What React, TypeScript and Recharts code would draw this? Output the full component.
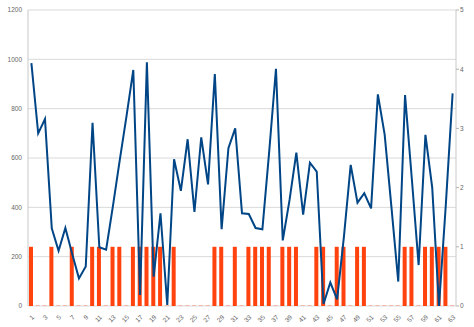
import { ComposedChart, Bar, Line, XAxis, YAxis, CartesianGrid } from "recharts";

const categories = [
  "1", "2", "3", "4", "5", "6", "7", "8", "9", "10",
  "11", "12", "13", "14", "15", "16", "17", "18", "19", "20",
  "21", "22", "23", "24", "25", "26", "27", "28", "29", "30",
  "31", "32", "33", "34", "35", "36", "37", "38", "39", "40",
  "41", "42", "43", "44", "45", "46", "47", "48", "49", "50",
  "51", "52", "53", "54", "55", "56", "57", "58", "59", "60",
  "61", "62", "63",
];

// line series, left axis
const amounts = [
  985, 700, 758, 315, 224, 316, 212, 112, 160, 743,
  238, 228, 405, 590, 770, 957, 45, 988, 119, 376,
  4, 595, 467, 676, 381, 684, 493, 940, 311, 640,
  720, 376, 373, 316, 311, 625, 962, 266, 430, 622,
  370, 581, 545, 8, 95, 27, 280, 572, 419, 457,
  396, 858, 695, 400, 99, 855, 515, 166, 694, 480,
  0, 410, 862,
];

// bar series, right axis (0 / 1)
const flags = [
  1, 0, 0, 1, 0, 0, 1, 0, 0, 1,
  1, 0, 1, 1, 0, 1, 1, 1, 1, 1,
  0, 1, 0, 0, 0, 0, 0, 1, 1, 0,
  1, 0, 1, 1, 1, 1, 0, 1, 1, 1,
  0, 0, 1, 1, 0, 1, 1, 0, 1, 1,
  0, 0, 0, 0, 0, 1, 1, 0, 1, 1,
  1, 1, 0,
];

const leftTicks = [0, 200, 400, 600, 800, 1000, 1200];
const rightTicks = [0, 1, 2, 3, 4, 5];

const data = categories.map((c, i) => ({ n: c, amount: amounts[i], flag: flags[i] }));

const LINE_COLOR = "#004586";
const BAR_COLOR = "#ff420e";
const AXIS_TEXT = { fontSize: 6.5, fill: "#666", fontFamily: "Liberation Sans, Arial, sans-serif" };

// zero-valued bars still leave a faint stub on the baseline
const FlagBar = (props: any) => {
  const { x, y, width, height } = props;
  if (!height || height < 0.5) {
    return <rect x={x} y={y - 1} width={width} height={1} fill={BAR_COLOR} fillOpacity={0.3} />;
  }
  return <rect x={x} y={y} width={width} height={height} fill={BAR_COLOR} />;
};

const XTick = (props: any) => {
  const { x, y, payload } = props;
  const tx = x + 1.5;
  const ty = y + 2;
  return (
    <text
      x={tx}
      y={ty}
      transform={`rotate(-45 ${tx} ${ty})`}
      textAnchor="end"
      dy="0.35em"
      {...AXIS_TEXT}
    >
      {payload.value}
    </text>
  );
};

export default function App() {
  return (
    <div style={{ position: "absolute", left: 0, top: 0, width: 474, height: 327, background: "#fff" }}>
      <ComposedChart width={474} height={327} data={data} margin={{ top: 10, right: 0, bottom: 0, left: 0 }}>
        <CartesianGrid yAxisId="left" vertical={false} stroke="#d9d9d9" />
        <XAxis
          dataKey="n"
          interval={1}
          height={21}
          tickLine={false}
          axisLine={false}
          tick={<XTick />}
        />
        <YAxis
          yAxisId="left"
          domain={[0, 1200]}
          ticks={leftTicks}
          width={28}
          tickLine={false}
          tickMargin={0}
          axisLine={{ stroke: "#c8c8c8" }}
          tick={AXIS_TEXT}
        />
        <YAxis
          yAxisId="right"
          orientation="right"
          domain={[0, 5]}
          ticks={rightTicks}
          width={18}
          tickSize={3}
          tickMargin={1}
          tickLine={{ stroke: "#b3b3b3" }}
          axisLine={{ stroke: "#c8c8c8" }}
          tick={{ ...AXIS_TEXT, textAnchor: "start" }}
        />
        <Bar yAxisId="right" dataKey="flag" barSize={4} shape={<FlagBar />} isAnimationActive={false} />
        <Line
          yAxisId="left"
          dataKey="amount"
          stroke={LINE_COLOR}
          strokeWidth={2}
          dot={false}
          type="linear"
          isAnimationActive={false}
        />
      </ComposedChart>
    </div>
  );
}
